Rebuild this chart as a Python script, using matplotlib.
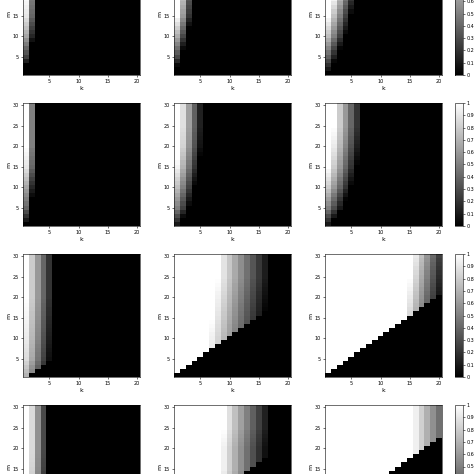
import numpy as np
import matplotlib
matplotlib.use("Agg")
import matplotlib.pyplot as plt

k_vals = np.arange(1, 21)
m_vals = np.arange(1, 31)
m_anchor = [1, 5, 10, 15, 20, 25, 30]

# per panel: edge column (last white) at anchor m, gradient width, staircase limit at anchor m (None = none)
edges = [
    [[-1.5, -0.5, 0.3, 0.8, 1.0, 1.2, 1.4], [-2.0, -0.8, 0.2, 1.0, 1.4, 1.8, 2.0], [-3.0, -1.5, 0.0, 1.0, 2.0, 2.8, 3.2]],
    [[-1.0, -0.2, 0.3, 0.8, 1.0, 1.0, 1.0], [-2.6, -1.0, 0.0, 0.8, 1.3, 1.5, 1.5], [-3.5, -1.5, 0.0, 1.0, 1.6, 2.0, 2.0]],
    [[-0.5, 0.3, 0.6, 0.8, 1.0, 1.0, 1.0], [5.0, 6.0, 6.5, 7.0, 7.5, 8.0, 8.0], [13.0, 13.5, 14.0, 14.0, 14.5, 15.0, 15.5]],
    [[0.5, 1.0, 1.2, 1.4, 1.5, 1.5, 1.5], [7.0, 7.5, 8.0, 8.5, 8.5, 9.0, 9.0], [14.0, 14.5, 15.0, 15.0, 15.5, 15.5, 15.5]],
]
widths = [[2.0, 2.5, 4.0], [2.0, 4.0, 5.0], [5.0, 9.0, 6.0], [3.5, 8.0, 8.0]]
stairs = [
    [None, None, None],
    [None, None, None],
    [[1, 5, 10, 15, 20, 25, 30], [0, 4, 9, 14, 19, 24, 29], [0, 4, 9, 14, 19, 24, 29]],
    [None, [-1, 3, 8, 13, 18, 23, 28], [-1.5, 2.5, 7.5, 12.5, 17.5, 22.5, 27.5]],
]

fig = plt.figure(figsize=(4.74, 4.74), dpi=100)
W = H = 474.0
col_x = [23, 174, 325]
row_top = [-48, 103, 254, 405]
aw, ah = 117, 123
fs = 3.5

for r in range(4):
    for c in range(3):
        e = np.interp(m_vals, m_anchor, edges[r][c])
        w = widths[r][c]
        Z = np.clip((e[:, None] + w - k_vals[None, :]) / w, 0, 1)
        if stairs[r][c] is not None:
            s = np.interp(m_vals, m_anchor, stairs[r][c])
            Z = np.where(k_vals[None, :] > s[:, None], 0, Z)
        ax = fig.add_axes([col_x[c] / W, 1 - (row_top[r] + ah) / H, aw / W, ah / H])
        im = ax.imshow(Z, cmap='gray', vmin=0, vmax=1, origin='lower', aspect='auto',
                       extent=[0.5, 20.5, 0.5, 30.5], interpolation='nearest')
        ax.set_xticks([5, 10, 15, 20])
        ax.set_yticks([5, 10, 15, 20, 25, 30])
        ax.tick_params(labelsize=fs, length=1.5, width=0.4, pad=1.5)
        ax.set_xlabel('k', fontsize=4.5, labelpad=1)
        ax.set_ylabel('m', fontsize=4.5, labelpad=1)
        for sp in ax.spines.values():
            sp.set_linewidth(0.4)
    cax = fig.add_axes([455 / W, 1 - (row_top[r] + ah) / H, 8 / W, ah / H])
    cb = fig.colorbar(im, cax=cax, ticks=np.arange(0, 1.01, 0.1))
    cb.ax.set_yticklabels(['0', '0.1', '0.2', '0.3', '0.4', '0.5', '0.6', '0.7', '0.8', '0.9', '1'])
    cb.ax.tick_params(labelsize=fs, length=1.5, width=0.4, pad=1)
    cb.outline.set_linewidth(0.4)

fig.savefig('out.png', dpi=100)
